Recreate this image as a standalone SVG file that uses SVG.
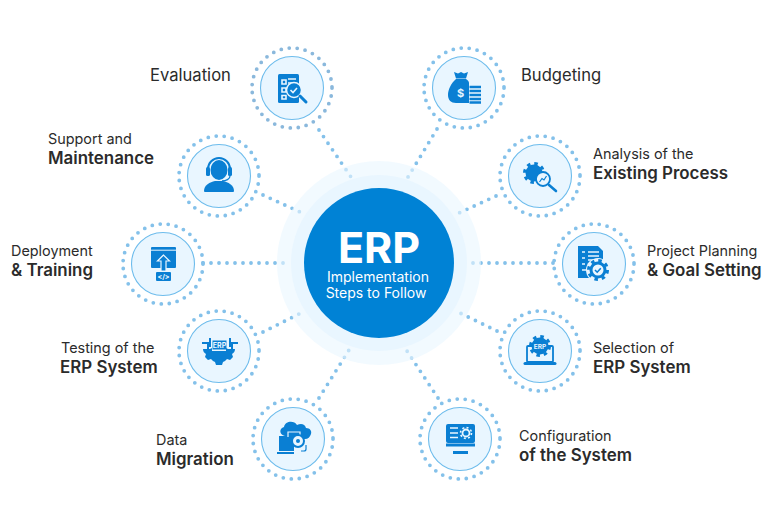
<svg xmlns="http://www.w3.org/2000/svg" width="768" height="510" viewBox="0 0 768 510">
<style>
text{font-family:Inter,"Liberation Sans",sans-serif;fill:#2b2b2b}
.l{font-size:14.4px;font-weight:400}
.l2{font-size:16.6px;font-weight:400}
.b{font-size:16.9px;font-weight:600}
.disc{fill:#e9f6ff;stroke:#6dbcec;stroke-width:1.1}
.ring{fill:none;stroke:#84c1ea;stroke-width:3.8;stroke-linecap:round;stroke-dasharray:0 8.06}
.c{fill:none;stroke:#84c1ea;stroke-width:3.8;stroke-linecap:round;stroke-dasharray:0 8}
.i{fill:#0a7fd3}
.w{fill:#e9f6ff}
.s{fill:none;stroke:#0a7fd3;stroke-width:2}
.sw{fill:none;stroke:#e9f6ff;stroke-width:1.6}
</style>
<defs>
<g id="gear"><circle r="8.5" class="i"/><circle r="9.500" fill="none" stroke="#0a7fd3" stroke-width="3" stroke-dasharray="3.500 3.960"/></g>
</defs>
<rect width="768" height="510" fill="#fff"/>
<g id="connectors">
<line class="c" x1="319" y1="130" x2="351" y2="177"/>
<line class="c" x1="263" y1="195" x2="300" y2="212"/>
<line class="c" x1="437" y1="129" x2="408" y2="177"/>
<line class="c" x1="496" y1="196" x2="459" y2="213"/>
<line class="c" x1="203" y1="263" x2="287" y2="263"/>
<line class="c" x1="553" y1="263" x2="471" y2="263"/>
<line class="c" x1="263" y1="332" x2="299" y2="314"/>
<line class="c" x1="497" y1="331" x2="460" y2="313"/>
<line class="c" x1="319" y1="398" x2="349" y2="350"/>
<line class="c" x1="438" y1="398" x2="407" y2="351"/>
</g>
<g id="center">
<circle cx="379" cy="263" r="102" fill="#eaf7ff" fill-opacity=".6"/>
<circle cx="379" cy="263" r="88" fill="#e9f6ff"/>
<circle cx="379" cy="263" r="75" fill="#0082d5"/>
<text x="379" y="263" text-anchor="middle" style="font-size:43px;font-weight:700;fill:#fff">ERP</text>
<text x="378" y="282" text-anchor="middle" style="font-size:14px;font-weight:400;fill:#fff">Implementation</text>
<text x="376" y="298" text-anchor="middle" style="font-size:14px;font-weight:400;fill:#fff">Steps to Follow</text>
</g>
<g id="evaluation">
<circle class="ring" cx="292" cy="88" r="40" style="stroke:#8ab8dc"/><circle class="disc" cx="292" cy="88" r="31.5"/>
<text class="l2" x="150" y="81">Evaluation</text>
<rect class="i" x="278" y="74" width="21" height="29" rx="1.5"/>
<path class="sw" d="M282 80h4v4h-4zM282 88h4v4h-4zM282 95.500h4v3.500h-4zM288 79h8M288 83h5"/>
<circle cx="294" cy="90" r="7.500" class="i" stroke="#e9f6ff" stroke-width="1.500"/>
<path class="sw" d="M290.500 90l2.500 2.500 4-4.500"/>
<path d="M300 96l6 6" stroke="#0a7fd3" stroke-width="3" stroke-linecap="round"/>
</g>
<g id="budgeting">
<circle class="ring" cx="464" cy="88" r="40"/><circle class="disc" cx="464" cy="88" r="31.500"/>
<text class="l2" x="521" y="81">Budgeting</text>
<path class="i" d="M454 72l4 1.500 3-1.500 3 1.500 4-1.500-2 6.500h-10zM456 79h10c2 1 3 3 3 4v20h-13c-5 0-8-3-8-8 0-5 3-12 8-16z"/>
<text x="460.500" y="97" text-anchor="middle" style="font-size:11px;font-weight:700;fill:#e9f6ff">$</text>
<path d="M469.500 87h11.500M469.500 91h11.500M469.500 95h11.500M469.500 99h11.500M469.500 102.500h11.500" stroke="#0a7fd3" stroke-width="2.300"/>
</g>
<g id="support">
<circle class="ring" cx="219" cy="176" r="40"/><circle class="disc" cx="219" cy="176" r="31.500"/>
<text class="l" x="48" y="144">Support and</text>
<text class="b" x="48" y="164">Maintenance</text>
<path class="s" d="M208 172v-3a11 11 0 0 1 22 0v3" stroke-width="2.200"/>
<rect class="i" x="206" y="167" width="4" height="9" rx="1.500"/><rect class="i" x="228" y="167" width="4" height="9" rx="1.500"/>
<ellipse class="i" cx="219" cy="170" rx="8.500" ry="10"/>
<path class="i" d="M204 191c0-6 6-9 11-10h8c5 1 11 4 11 10 0 1-1 1-2 1h-26c-1 0-2 0-2-1z"/>
<path d="M230 176c0 3-4 5-8 5" fill="none" stroke="#0a7fd3" stroke-width="1.300"/>
</g>
<g id="analysis">
<circle class="ring" cx="540" cy="176" r="40"/><circle class="disc" cx="540" cy="176" r="31.500"/>
<text class="l" x="593" y="159">Analysis of the</text>
<text class="b" x="593" y="179">Existing Process</text>
<use href="#gear" x="534" y="173"/>
<circle cx="543" cy="179" r="7" fill="#e9f6ff" stroke="#0a7fd3" stroke-width="1.800"/>
<path d="M539.500 182l2.500-3.500 2 1.500 2.500-4" fill="none" stroke="#0a7fd3" stroke-width="1.200"/>
<path d="M549 185l7 6" stroke="#0a7fd3" stroke-width="2.600" stroke-linecap="round"/>
</g>
<g id="deployment">
<circle class="ring" cx="163" cy="264" r="40"/><circle class="disc" cx="163" cy="264" r="31.500"/>
<text class="l" x="11" y="256">Deployment</text>
<text class="b" x="11" y="276">&amp; Training</text>
<rect class="i" x="151" y="247" width="25" height="21" rx="1"/>
<path d="M151 250.200h25" stroke="#e9f6ff" stroke-width="1"/>
<path d="M163.500 255l-6 6h3.500v10h5v-10h3.500z" fill="#0a7fd3" stroke="#e9f6ff" stroke-width="1.200"/>
<rect class="i" x="156" y="272" width="15" height="9" rx="1"/>
<text x="163.500" y="279" text-anchor="middle" style="font-size:7px;font-weight:700;fill:#e9f6ff">&lt;/&gt;</text>
</g>
<g id="project">
<circle class="ring" cx="594" cy="264" r="40"/><circle class="disc" cx="594" cy="264" r="31.500"/>
<text class="l" x="647" y="256">Project Planning</text>
<text class="b" x="647" y="276">&amp; Goal Setting</text>
<path class="i" d="M578 246h20l5 5v27h-25z"/>
<path class="sw" d="M582 252h3M582 258h3M582 264h3M588 252h11M588 256h11M588 260h9M582 270h5"/>
<circle cx="598" cy="270" r="12" fill="#e9f6ff"/>
<use href="#gear" x="598" y="270"/>
<circle cx="598" cy="270" r="5.500" fill="#e9f6ff"/>
<path d="M595 270l2.200 2.200 3.600-4" fill="none" stroke="#0a7fd3" stroke-width="1.600"/>
</g>
<g id="testing">
<circle class="ring" cx="219" cy="351" r="40"/><circle class="disc" cx="219" cy="351" r="31.500"/>
<text class="l" x="61" y="353">Testing of the</text>
<text class="b" x="60" y="373">ERP System</text>
<path class="i" d="M203 349h7l2-1v3h14v-3l2 1h7c0 2-1 4-3 5l1 3-3 3-3-1-2 2-2 1-1 3h-6l-1-3-2-1-2-2-3 1-3-3 1-3c-2-1-3-3-3-5z"/>
<rect class="i" x="212.500" y="340.500" width="14" height="9"/>
<text x="219.500" y="348" text-anchor="middle" style="font-size:7px;font-weight:700;fill:#e9f6ff">ERP</text>
<path class="s" d="M202 343h6v6M210 338v9M230 338v9M238 343h-6v6" stroke-width="1.300"/>
</g>
<g id="selection">
<circle class="ring" cx="540" cy="351" r="40"/><circle class="disc" cx="540" cy="351" r="31.500"/>
<text class="l" x="593" y="353">Selection of</text>
<text class="b" x="593" y="373">ERP System</text>
<rect x="527" y="346" width="26" height="16" rx="1" fill="none" stroke="#0a7fd3" stroke-width="1.800"/>
<path d="M525 363.500h30" stroke="#0a7fd3" stroke-width="3" stroke-linecap="round"/>
<use href="#gear" x="540" y="346"/>
<text x="540" y="349" text-anchor="middle" style="font-size:6.500px;font-weight:700;fill:#e9f6ff">ERP</text>
</g>
<g id="data">
<circle class="ring" cx="293" cy="439" r="40"/><circle class="disc" cx="293" cy="439" r="31.500"/>
<text class="l" x="156" y="445">Data</text>
<text class="b" x="156" y="465">Migration</text>
<path class="i" d="M285 436c-6-1-6-8-1-9 1-6 10-7 13-2 4-2 8-1 9 3 4 0 6 3 5 6-1 3-3 5-6 5h-20z"/>
<rect class="i" x="279" y="436" width="15" height="15"/>
<path class="s" d="M277 453h17" stroke-width="1.500"/>
<path d="M288 437v-5h12v3" fill="none" stroke="#e9f6ff" stroke-width="1.200"/>
<circle cx="298" cy="441" r="6" fill="#e9f6ff" stroke="#0a7fd3" stroke-width="2"/>
<circle cx="298" cy="441" r="2" class="i"/>
<path d="M306 445v4a2 2 0 0 1-2 2h-3" fill="none" stroke="#0a7fd3" stroke-width="1.200"/>
</g>
<g id="configuration">
<circle class="ring" cx="460" cy="439" r="40"/><circle class="disc" cx="460" cy="439" r="31.500"/>
<text class="l" x="519" y="441">Configuration</text>
<text class="b" x="519" y="461">of the System</text>
<rect class="i" x="446" y="424" width="29" height="19" rx="2"/>
<path class="i" d="M446 443.500h29v3h-29zM453 451h15v3h-15z"/>
<path class="sw" d="M450 428h8M450 433h8M450 437.500h8" stroke-width="1.300"/>
<circle cx="466" cy="433" r="3.500" fill="#0a7fd3" stroke="#e9f6ff" stroke-width="1.800"/>
<circle cx="466" cy="433" r="5.500" fill="none" stroke="#e9f6ff" stroke-width="1.600" stroke-dasharray="2 2.300"/>
</g>
</svg>
